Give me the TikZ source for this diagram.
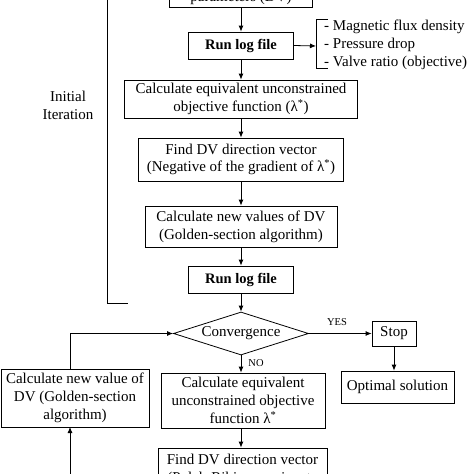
\documentclass[tikz,border=0pt]{standalone}
\usepackage{fontspec}
\setmainfont{Liberation Serif}
\usetikzlibrary{arrows.meta,shapes.geometric}
\tikzset{
  fbox/.style={draw, line width=0.8pt, align=center, inner sep=0pt,
    font=\fontsize{15}{17.8}\selectfont},
  flow/.style={line width=0.8pt, -{Latex[length=6pt,width=5pt]}},
  plain/.style={line width=0.8pt},
  lbl/.style={font=\fontsize{10.5}{12}\selectfont, inner sep=0pt},
}
\begin{document}
\begin{tikzpicture}[x=1pt,y=-1pt]
\path[use as bounding box] (0,0) rectangle (474,474);
\clip (0,0) rectangle (474,474);
\fill[white] (0,0) rectangle (474,474);
% main column
\node[fbox, minimum width=143, minimum height=18] (p) at (241,-2) {parameters (DV)};
\node[fbox, minimum width=105, minimum height=27, font=\fontsize{14.5}{17.5}\selectfont\bfseries] (run1) at (241,45.5) {Run log file};
\node[fbox, minimum width=233, minimum height=38] (calc1) at (241,99) {Calculate equivalent unconstrained\\objective function (λ\textsuperscript{*})};
\node[fbox, minimum width=205, minimum height=43] (find1) at (241,159.5) {Find DV direction vector\\(Negative of the gradient of λ\textsuperscript{*})};
\node[fbox, minimum width=192, minimum height=41] (newv) at (241,226.5) {Calculate new values of DV\\(Golden-section algorithm)};
\node[fbox, minimum width=105, minimum height=27, font=\fontsize{14.5}{17.5}\selectfont\bfseries] (run2) at (241,279.5) {Run log file};
\node[fbox, diamond, aspect=3.14, minimum width=135, minimum height=43] (conv) at (241,333.5) {Convergence};
\node[fbox, minimum width=164, minimum height=55] (calc2) at (243,400.5) {Calculate equivalent\\unconstrained objective\\function λ\textsuperscript{*}};
\node[fbox, minimum width=169, minimum height=44] (find2) at (242.5,470) {Find DV direction vector\\(Polak-Ribiere conjugate};
\node[fbox, minimum width=44, minimum height=25] (stop) at (394,333.5) {Stop};
\node[fbox, minimum width=113, minimum height=32] (opt) at (397.5,387) {Optimal solution};
\node[fbox, minimum width=148, minimum height=58] (left) at (75,398) {Calculate new value of\\DV (Golden-section\\algorithm)};
% outputs bracket
\coordinate (bt) at (316,19);
\coordinate (bb) at (316,68);
\coordinate (bm) at (316,46);
\draw[plain] (328,19) -- (bt) -- (bb) -- (328,68);
\node[anchor=west, align=left, inner sep=0pt, font=\fontsize{15}{18}\selectfont] (outs) at (324,45) {- Magnetic flux density\\- Pressure drop\\- Valve ratio (objective)};
% initial iteration bracket
\coordinate (ib1) at (107,-5);
\coordinate (ib2) at (107,303);
\coordinate (ib3) at (128,303);
\draw[plain] (ib1) -- (ib2) -- (ib3);
\node[align=center, inner sep=0pt, font=\fontsize{15}{17.8}\selectfont] (init) at (68,105.5) {Initial\\Iteration};
% connectors
\draw[flow] (p.south) -- (run1.north);
\draw[flow] (run1.east) -- (bm);
\draw[flow] (run1.south) -- (calc1.north);
\draw[flow] (calc1.south) -- (find1.north);
\draw[flow] (find1.south) -- (newv.north);
\draw[flow] (newv.south) -- (run2.north);
\draw[flow] (run2.south) -- (conv.north);
\draw[flow] (conv.east) -- (stop.west);
\draw[flow] (stop.south) -- (opt.north -| stop.south);
\draw[flow] (conv.south) -- (calc2.north -| conv.south);
\draw[flow] (calc2.south -| conv.south) -- (find2.north -| conv.south);
\coordinate (lb) at (70,480);
\draw[flow] (lb) -- (70,427);
\draw[flow] (70,369) -- (70,333.5) -- (conv.west);
\node[lbl] (yes) at (337,322) {YES};
\node[lbl] (no) at (256,363) {NO};
\end{tikzpicture}
\end{document}
